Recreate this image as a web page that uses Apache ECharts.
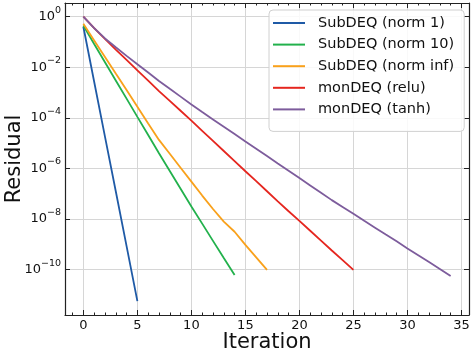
<!DOCTYPE html>
<html>
<head>
<meta charset="utf-8">
<script src="https://cdn.jsdelivr.net/npm/echarts@6/dist/echarts.min.js"></script>
<style>html,body{margin:0;padding:0;background:#fff}#c{width:474px;height:357px}</style>
</head>
<body>
<div id="c"></div>
<script>
// ---- data ----
const seriesNames = ['SubDEQ (norm 1)', 'SubDEQ (norm 10)', 'SubDEQ (norm inf)', 'monDEQ (relu)', 'monDEQ (tanh)'];
const norm1 = [3.98e-1, 2.69e-3, 1.82e-5, 1.26e-7, 8.51e-10, 5.75e-12];
const norm10 = [4.47e-1, 8.32e-2, 1.585e-2, 3.02e-3, 5.75e-4, 1.096e-4, 2.09e-5, 3.98e-6, 7.94e-7, 1.585e-7, 3.16e-8, 6.61e-9, 1.38e-9, 2.88e-10, 6.17e-11];
const normInf = [5.25e-1, 1.15e-1, 2.57e-2, 5.62e-3, 1.26e-3, 2.75e-4, 6.03e-5, 1.35e-5, 3.80e-6, 1.07e-6, 3.02e-7, 8.51e-8, 2.51e-8, 7.94e-9, 3.16e-9, 9.55e-10, 3.09e-10, 9.77e-11];
const relu = [1, 3.55e-1, 1.32e-1, 5.01e-2, 1.95e-2, 7.59e-3, 2.95e-3, 1.15e-3, 4.68e-4, 1.91e-4, 7.76e-5, 3.09e-5, 1.23e-5, 4.90e-6, 1.95e-6, 7.76e-7, 3.16e-7, 1.26e-7, 5.01e-8, 2.04e-8, 8.51e-9, 3.47e-9, 1.41e-9, 5.75e-10, 2.40e-10, 9.77e-11];
const tanh = [1, 3.55e-1, 1.38e-1, 6.17e-2, 2.82e-2, 1.32e-2, 6.17e-3, 2.88e-3, 1.41e-3, 6.92e-4, 3.39e-4, 1.70e-4, 8.71e-5, 4.47e-5, 2.29e-5, 1.17e-5, 6.03e-6, 3.09e-6, 1.58e-6, 8.13e-7, 4.17e-7, 2.14e-7, 1.10e-7, 5.62e-8, 3.02e-8, 1.62e-8, 8.51e-9, 4.57e-9, 2.45e-9, 1.32e-9, 6.92e-10, 3.72e-10, 2.00e-10, 1.07e-10, 5.62e-11];
const xTicks = [0, 5, 10, 15, 20, 25, 30, 35];
const xMinorTicks = [-1, 0, 1, 2, 3, 4, 5, 6, 7, 8, 9, 10, 11, 12, 13, 14, 15, 16, 17, 18, 19, 20, 21, 22, 23, 24, 25, 26, 27, 28, 29, 30, 31, 32, 33, 34, 35];
const yTicks = [1, 1e-2, 1e-4, 1e-6, 1e-8, 1e-10];

const colors = ['#1f5aa6', '#22b14c', '#f9a11b', '#e5261f', '#7d5c9c'];
const allData = [norm1, norm10, normInf, relu, tanh];

const FONT = 'DejaVu Sans';
const X_MIN = -1.7, X_MAX = 35.7;
const Y_MIN = 1.62e-12, Y_MAX = 3.47;

function supLabel(v) {
  const e = Math.round(Math.log10(v));
  const s = e < 0 ? '\u2212' + (-e) : String(e);
  return '{b|10}{s|' + s + '}';
}

const chart = echarts.init(document.getElementById('c'), null, { renderer: 'canvas' });
const axisLineStyle = { color: '#222', width: 1.2 };

const option = {
  animation: false,
  backgroundColor: '#fff',
  color: colors,
  grid: { left: 65, right: 5, top: 3, bottom: 42, containLabel: false, outerBoundsMode: 'none' },
  legend: {
    orient: 'vertical',
    left: 269, top: 10,
    padding: [5, 10, 14, 4],
    itemGap: 5.6,
    icon: 'rect',
    itemWidth: 32, itemHeight: 2,
    backgroundColor: 'rgba(255,255,255,0.85)',
    borderColor: '#d0d0d0', borderWidth: 1, borderRadius: 4,
    textStyle: { fontFamily: FONT, fontSize: 14.5, color: '#111', lineHeight: 16, padding: [0, 0, 0, 8] },
    data: seriesNames
  },
  xAxis: [
    {
      type: 'value', position: 'bottom', min: X_MIN, max: X_MAX,
      name: 'Iteration', nameLocation: 'middle', nameGap: 17, nameMoveOverlap: false,
      nameTextStyle: { fontFamily: FONT, fontSize: 21, color: '#111' },
      axisLine: { show: true, onZero: false, lineStyle: axisLineStyle },
      axisTick: { show: true, inside: true, length: 5, customValues: xTicks, lineStyle: { color: '#222', width: 1 } },
      axisLabel: { show: true, customValues: xTicks, margin: 4, fontFamily: FONT, fontSize: 13, color: '#111' },
      splitLine: { show: true, lineStyle: { color: '#d6d6d6', width: 1 } }
    },
    {
      type: 'value', position: 'bottom', min: X_MIN, max: X_MAX,
      axisLine: { show: false, onZero: false },
      axisTick: { show: true, inside: true, length: 2.5, customValues: xMinorTicks, lineStyle: { color: '#222', width: 1 } },
      axisLabel: { show: false }, splitLine: { show: false }
    },
    {
      type: 'value', position: 'top', min: X_MIN, max: X_MAX,
      axisLine: { show: true, onZero: false, lineStyle: axisLineStyle },
      axisTick: { show: true, inside: true, length: 5, customValues: xTicks, lineStyle: { color: '#222', width: 1 } },
      axisLabel: { show: false }, splitLine: { show: false }
    },
    {
      type: 'value', position: 'top', min: X_MIN, max: X_MAX,
      axisLine: { show: false, onZero: false },
      axisTick: { show: true, inside: true, length: 2.5, customValues: xMinorTicks, lineStyle: { color: '#222', width: 1 } },
      axisLabel: { show: false }, splitLine: { show: false }
    }
  ],
  yAxis: [
    {
      type: 'log', logBase: 10, position: 'left', min: Y_MIN, max: Y_MAX,
      name: 'Residual', nameLocation: 'middle', nameGap: 40, nameMoveOverlap: false,
      nameTextStyle: { fontFamily: FONT, fontSize: 21, color: '#111' },
      axisLine: { show: true, onZero: false, lineStyle: axisLineStyle },
      axisTick: { show: true, inside: true, length: 5, customValues: yTicks, lineStyle: { color: '#222', width: 1 } },
      axisLabel: {
        show: true, customValues: yTicks, margin: 4,
        formatter: supLabel,
        rich: {
          b: { fontFamily: FONT, fontSize: 13, color: '#111', lineHeight: 13, verticalAlign: 'bottom' },
          s: { fontFamily: FONT, fontSize: 9.5, color: '#111', lineHeight: 10, padding: [0, 0, 8, 0], verticalAlign: 'bottom' }
        }
      },
      splitLine: { show: true, lineStyle: { color: '#d6d6d6', width: 1 } }
    },
    {
      type: 'log', logBase: 10, position: 'right', min: Y_MIN, max: Y_MAX,
      axisLine: { show: true, onZero: false, lineStyle: axisLineStyle },
      axisTick: { show: true, inside: true, length: 5, customValues: yTicks, lineStyle: { color: '#222', width: 1 } },
      axisLabel: { show: false }, splitLine: { show: false }
    }
  ],
  series: allData.map((arr, k) => ({
    name: seriesNames[k],
    type: 'line',
    xAxisIndex: 0, yAxisIndex: 0,
    symbol: 'none', showSymbol: false,
    lineStyle: { width: 1.8, color: colors[k] },
    itemStyle: { color: colors[k] },
    data: arr.map((v, i) => [i, v]),
    z: 3
  }))
};
chart.setOption(option);
</script>
</body>
</html>
